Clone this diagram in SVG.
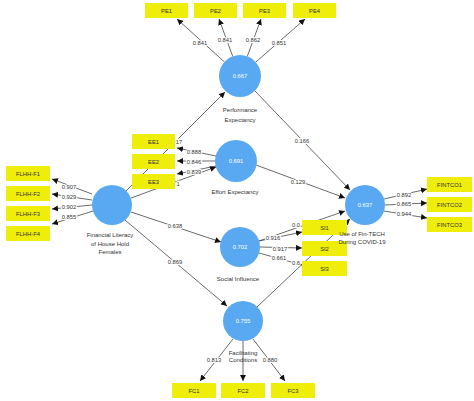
<svg xmlns="http://www.w3.org/2000/svg" width="474" height="401" viewBox="0 0 474 401">
<defs>
<marker id="ah" viewBox="0 0 10 10" refX="10" refY="5" markerWidth="6" markerHeight="6" orient="auto" markerUnits="userSpaceOnUse"><path d="M0,0 L10,5 L0,10 z" fill="#111"/></marker>
<style>
.c{stroke:#444;stroke-width:0.8;fill:none;marker-end:url(#ah)}
.lv{fill:#58A9F2}
.ind{fill:#EEEE0A}
text{font-family:"Liberation Sans",Arial,sans-serif}
.t{font-size:6px;fill:#333;text-anchor:middle}
.w{font-size:5.8px;fill:#fff;text-anchor:middle}
.b{font-size:5.8px;fill:#333;text-anchor:middle}
.lab{font-size:5.8px;fill:#333;text-anchor:middle;stroke:#fff;stroke-width:2.2;paint-order:stroke}
</style>
</defs>
<rect width="474" height="401" fill="#fff"/>
<g id="connectors">
<line class="c" x1="224.4" y1="61.9" x2="177" y2="19"/>
<line class="c" x1="232.7" y1="56.3" x2="219" y2="19"/>
<line class="c" x1="247.3" y1="56.3" x2="261" y2="19"/>
<line class="c" x1="255.8" y1="62.1" x2="305" y2="19"/>
<line class="c" x1="92" y1="194" x2="52" y2="179"/>
<line class="c" x1="92" y1="200" x2="52" y2="194"/>
<line class="c" x1="92" y1="205" x2="52" y2="209"/>
<line class="c" x1="93" y1="211" x2="52" y2="224"/>
<line class="c" x1="216" y1="156" x2="177" y2="148"/>
<line class="c" x1="215" y1="161" x2="177" y2="161"/>
<line class="c" x1="216" y1="166" x2="177" y2="174"/>
<line class="c" x1="384" y1="199" x2="427" y2="189"/>
<line class="c" x1="385" y1="205" x2="427" y2="203"/>
<line class="c" x1="384" y1="211" x2="427" y2="218"/>
<line class="c" x1="259" y1="241" x2="302" y2="232"/>
<line class="c" x1="260" y1="247" x2="302" y2="248"/>
<line class="c" x1="259" y1="253" x2="302" y2="265"/>
<line class="c" x1="233" y1="339" x2="200" y2="381"/>
<line class="c" x1="243" y1="341" x2="243" y2="381"/>
<line class="c" x1="253" y1="339" x2="285" y2="381"/>
<line class="c" x1="126" y1="191" x2="225" y2="92"/>
<line class="c" x1="131" y1="198" x2="216" y2="167"/>
<line class="c" x1="131" y1="212" x2="221" y2="242"/>
<line class="c" x1="125" y1="220" x2="227" y2="306"/>
<line class="c" x1="255" y1="91" x2="350" y2="190"/>
<line class="c" x1="256" y1="165" x2="345" y2="198"/>
<line class="c" x1="259" y1="241" x2="345" y2="211"/>
<line class="c" x1="257" y1="307" x2="350" y2="219"/>
</g>
<g id="labels">
<text class="lab" x="200" y="45">0.841</text>
<text class="lab" x="225" y="42">0.841</text>
<text class="lab" x="253" y="42">0.862</text>
<text class="lab" x="279" y="45">0.851</text>
<text class="lab" x="69" y="189">0.907</text>
<text class="lab" x="69" y="199">0.929</text>
<text class="lab" x="69" y="209">0.902</text>
<text class="lab" x="69" y="219">0.855</text>
<text class="lab" x="194" y="154">0.888</text>
<text class="lab" x="194" y="164">0.846</text>
<text class="lab" x="194" y="174">0.839</text>
<text class="lab" x="404" y="197">0.892</text>
<text class="lab" x="404" y="206">0.865</text>
<text class="lab" x="404" y="216">0.944</text>
<text class="lab" x="273" y="240">0.916</text>
<text class="lab" x="280" y="251">0.917</text>
<text class="lab" x="279" y="260">0.661</text>
<text class="lab" x="214" y="362">0.813</text>
<text class="lab" x="270" y="362">0.880</text>
<text class="lab" x="302" y="143">0.166</text>
<text class="lab" x="298" y="184">0.129</text>
<text class="lab" x="175" y="228">0.638</text>
<text class="lab" x="175" y="264">0.869</text>
<text class="lab" x="179" y="144">17</text>
<text class="lab" x="178" y="186">1</text>
<text class="lab" x="296" y="227">0.0</text>
<text class="lab" x="296" y="265">0.6</text>
</g>
<g id="PE1"><rect class="ind" x="145" y="3" width="43" height="15"/><text class="b" x="166.5" y="12.5">PE1</text></g>
<g id="PE2"><rect class="ind" x="194" y="3" width="43" height="15"/><text class="b" x="215.5" y="12.5">PE2</text></g>
<g id="PE3"><rect class="ind" x="243" y="3" width="43" height="15"/><text class="b" x="264.5" y="12.5">PE3</text></g>
<g id="PE4"><rect class="ind" x="293" y="3" width="43" height="15"/><text class="b" x="314.5" y="12.5">PE4</text></g>
<g id="FLHH-F1"><rect class="ind" x="6" y="166" width="44" height="15"/><text class="b" x="28" y="175.5">FLHH-F1</text></g>
<g id="FLHH-F2"><rect class="ind" x="6" y="186" width="44" height="15"/><text class="b" x="28" y="195.5">FLHH-F2</text></g>
<g id="FLHH-F3"><rect class="ind" x="6" y="206" width="44" height="15"/><text class="b" x="28" y="215.5">FLHH-F3</text></g>
<g id="FLHH-F4"><rect class="ind" x="6" y="226" width="44" height="15"/><text class="b" x="28" y="235.5">FLHH-F4</text></g>
<g id="EE1"><rect class="ind" x="132" y="134" width="43" height="15"/><text class="b" x="153.5" y="143.5">EE1</text></g>
<g id="EE2"><rect class="ind" x="132" y="154" width="43" height="15"/><text class="b" x="153.5" y="163.5">EE2</text></g>
<g id="EE3"><rect class="ind" x="132" y="174" width="43" height="15"/><text class="b" x="153.5" y="183.5">EE3</text></g>
<g id="FINTCO1"><rect class="ind" x="427" y="177" width="45" height="15"/><text class="b" x="449.5" y="186.5">FINTCO1</text></g>
<g id="FINTCO2"><rect class="ind" x="427" y="197" width="45" height="15"/><text class="b" x="449.5" y="206.5">FINTCO2</text></g>
<g id="FINTCO3"><rect class="ind" x="427" y="217" width="45" height="15"/><text class="b" x="449.5" y="226.5">FINTCO3</text></g>
<g id="SI1"><rect class="ind" x="302" y="220" width="45" height="15"/><text class="b" x="324.5" y="229.5">SI1</text></g>
<g id="SI2"><rect class="ind" x="302" y="241" width="45" height="15"/><text class="b" x="324.5" y="250.5">SI2</text></g>
<g id="SI3"><rect class="ind" x="302" y="261" width="45" height="15"/><text class="b" x="324.5" y="270.5">SI3</text></g>
<g id="FC1"><rect class="ind" x="172" y="383" width="44" height="15"/><text class="b" x="194" y="392.5">FC1</text></g>
<g id="FC2"><rect class="ind" x="221" y="383" width="44" height="15"/><text class="b" x="243" y="392.5">FC2</text></g>
<g id="FC3"><rect class="ind" x="271" y="383" width="44" height="15"/><text class="b" x="293" y="392.5">FC3</text></g>
<g id="PE"><circle class="lv" cx="240" cy="76" r="21"/><text class="w" x="240" y="78">0.667</text><text class="t" x="240" y="112">Performance</text><text class="t" x="240" y="122">Expectancy</text></g>
<g id="EE"><circle class="lv" cx="236" cy="161" r="21"/><text class="w" x="236" y="163">0.691</text><text class="t" x="235" y="194">Effort Expectancy</text></g>
<g id="FLHH"><circle class="lv" cx="112" cy="205" r="20"/><text class="t" x="110" y="237">Financial Literacy</text><text class="t" x="110" y="245.5">of House Hold</text><text class="t" x="110" y="254">Females</text></g>
<g id="SI"><circle class="lv" cx="240" cy="247" r="20"/><text class="w" x="240" y="249">0.702</text><text class="t" x="238" y="281">Social Influence</text></g>
<g id="FC"><circle class="lv" cx="243" cy="321" r="20"/><text class="w" x="243" y="323">0.755</text><text class="t" x="243" y="355">Facilitating</text><text class="t" x="243" y="361.5">Conditions</text></g>
<g id="FIN"><circle class="lv" cx="365" cy="205" r="20"/><text class="w" x="365" y="207">0.637</text><text class="t" x="362" y="236">Use of Fin-TECH</text><text class="t" x="362" y="244">During COVID-19</text></g>
</svg>
